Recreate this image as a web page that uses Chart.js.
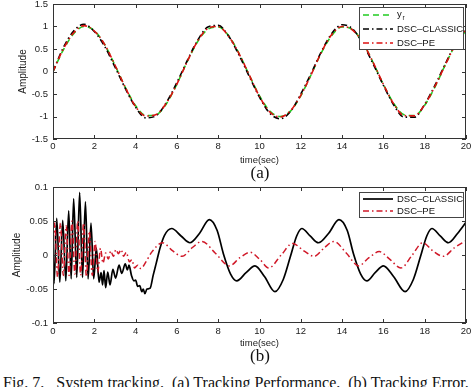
<!DOCTYPE html>
<html>
<head>
<meta charset="utf-8">
<script src="https://cdn.jsdelivr.net/npm/chart.js@4.4.1/dist/chart.umd.min.js"></script>
<style>
body { margin: 0; background: #fff; width: 474px; height: 387px; overflow: hidden; position: relative; }
canvas { position: absolute; left: 0; }
#topChart { top: 0; }
#bottomChart { top: 178px; }
.sub { position: absolute; font-family: "Liberation Serif", serif; font-size: 17px; color: #111; transform: translateX(-50%); }
#caption { position: absolute; left: 3px; top: 374px; font-family: "Liberation Serif", serif; font-size: 16px; color: #111; white-space: pre; }
</style>
</head>
<body>
<canvas id="topChart" width="474" height="168"></canvas>
<canvas id="bottomChart" width="474" height="172"></canvas>
<div class="sub" style="left:260px;top:163px">(a)</div>
<div class="sub" style="left:260px;top:346px">(b)</div>
<div id="caption">Fig. 7.   System tracking.  (a) Tracking Performance.  (b) Tracking Error.</div>
<script>
// (a) tracking performance
const tTop = [0, 0.5, 1, 1.5, 2, 2.5, 3, 3.5, 4, 4.5, 5, 5.5, 6, 6.5, 7, 7.5, 8, 8.5, 9, 9.5, 10,
    10.5, 11, 11.5, 12, 12.5, 13, 13.5, 14, 14.5, 15, 15.5, 16, 16.5, 17, 17.5, 18, 18.5, 19, 19.5, 20];
const refTop = [0, 0.48, 0.84, 1.0, 0.91, 0.6, 0.14, -0.35, -0.76, -0.98, -0.96, -0.71, -0.28, 0.22, 0.66,
    0.94, 0.99, 0.8, 0.41, -0.08, -0.54, -0.88, -1.0, -0.88, -0.54, -0.07, 0.42, 0.8, 0.99, 0.93, 0.65,
    0.2, -0.29, -0.71, -0.96, -0.98, -0.75, -0.34, 0.15, 0.6, 0.91];
const classicTop = [0, 0.53, 0.9, 1.05, 0.89, 0.56, 0.1, -0.375, -0.795, -1.03, -0.98, -0.68, -0.245, 0.24,
    0.69, 0.99, 1.025, 0.79, 0.373, -0.105, -0.57, -0.93, -1.05, -0.89, -0.5, -0.045, 0.445, 0.845, 1.04,
    0.95, 0.62, 0.17, -0.307, -0.745, -1.013, -1.015, -0.73, -0.305, 0.17, 0.63, 0.958];
const peTop = [0, 0.5, 0.86, 1.02, 0.9, 0.6, 0.145, -0.355, -0.78, -0.99, -0.955, -0.695, -0.28, 0.222,
    0.675, 0.955, 1.0, 0.785, 0.405, -0.075, -0.555, -0.9, -1.01, -0.87, -0.53, -0.072, 0.43, 0.82, 1.0,
    0.925, 0.635, 0.205, -0.285, -0.72, -0.98, -0.985, -0.735, -0.327, 0.15, 0.61, 0.93];

// (b) tracking error
const tClassicErr = [0, 0.05, 0.18, 0.33, 0.47, 0.62, 0.76, 0.88, 1.0, 1.15, 1.29, 1.43, 1.57, 1.7, 1.84,
    1.97, 2.1, 2.23, 2.33, 2.4, 2.47, 2.55, 2.65, 2.76, 2.9, 3.03, 3.2, 3.33, 3.5, 3.6, 3.68, 3.8, 3.92,
    4.0, 4.1, 4.2, 4.3, 4.37, 4.45, 4.55, 4.7, 4.85, 5.0, 5.18, 5.4, 5.75, 6.2, 6.63, 7.1, 7.57, 7.95,
    8.25, 8.6, 8.9, 9.35, 9.78, 10.25, 10.75, 11.15, 11.5, 11.8, 12.05, 12.45, 12.85, 13.35, 13.85,
    14.25, 14.55, 14.9, 15.2, 15.6, 16.0, 16.5, 17.05, 17.45, 17.8, 18.1, 18.35, 18.75, 19.15, 19.6, 20];
const classicErr = [0, -0.042, 0.054, -0.04, 0.051, -0.038, 0.065, -0.035, 0.083, -0.033, 0.092, -0.033,
    0.078, -0.035, 0.047, -0.035, 0.01, -0.04, -0.026, -0.044, -0.023, -0.048, -0.025, -0.044, -0.021,
    -0.034, -0.015, -0.027, -0.013, -0.022, -0.015, -0.03, -0.038, -0.037, -0.046, -0.045, -0.054, -0.05,
    -0.057, -0.05, -0.049, -0.03, -0.012, 0.01, 0.029, 0.039, 0.028, 0.018, 0.032, 0.052, 0.036, 0.002,
    -0.028, -0.038, -0.026, -0.016, -0.032, -0.054, -0.036, -0.002, 0.028, 0.039, 0.028, 0.018, 0.032,
    0.052, 0.036, 0.002, -0.028, -0.038, -0.026, -0.016, -0.032, -0.054, -0.036, -0.002, 0.028, 0.039,
    0.028, 0.018, 0.032, 0.048];
const tPeErr = [0, 0.08, 0.22, 0.36, 0.5, 0.64, 0.78, 0.92, 1.06, 1.2, 1.34, 1.48, 1.62, 1.76, 1.9, 2.04,
    2.17, 2.3, 2.42, 2.55, 2.68, 2.8, 2.92, 3.05, 3.17, 3.3, 3.42, 3.55, 3.7, 3.82, 3.95, 4.1, 4.25, 4.5,
    4.8, 5.3, 5.8, 6.25, 6.75, 7.22, 7.85, 8.55, 9.05, 9.55, 10.0, 10.45, 11.05, 11.6, 12.15, 12.65,
    13.15, 13.6, 14.2, 14.8, 15.3, 15.8, 16.3, 16.85, 17.4, 17.9, 18.4, 18.9, 19.45, 20];
const peErr = [0, 0.048, -0.032, 0.047, -0.03, 0.043, -0.03, 0.05, -0.028, 0.05, -0.03, 0.047, -0.032,
    0.035, -0.03, 0.02, -0.025, 0.01, -0.012, 0.003, -0.006, 0.006, -0.002, 0.008, 0.002, 0.008, -0.002,
    0.004, -0.01, -0.007, -0.019, -0.015, -0.02, -0.01, 0.005, 0.018, 0.006, -0.002, 0.011, 0.02, 0.003,
    -0.016, -0.004, 0.004, -0.006, -0.019, 0.0, 0.017, 0.006, -0.002, 0.011, 0.02, 0.003, -0.016, -0.004,
    0.005, -0.006, -0.019, 0.0, 0.018, 0.006, -0.002, 0.011, 0.021];

const xTicks = [0, 2, 4, 6, 8, 10, 12, 14, 16, 18, 20];
const yTicksTop = [-1.5, -1, -0.5, 0, 0.5, 1, 1.5];
const yTicksBottom = [-0.1, -0.05, 0, 0.05, 0.1];

const toPoints = (xs, ys) => xs.map((x, i) => ({ x: x, y: ys[i] }));
const FONT = '"Liberation Sans", Arial, sans-serif';
const DASHDOT = [6, 3, 1.5, 3];

// box round the plot area with MATLAB-like inward ticks
const framePlugin = {
    id: 'frame',
    afterDatasetsDraw(chart) {
        const { ctx, chartArea: a, scales } = chart;
        const x = scales.x, y = scales.y;
        ctx.save();
        ctx.strokeStyle = '#333';
        ctx.lineWidth = 1;
        ctx.strokeRect(a.left + 0.5, a.top + 0.5, a.right - a.left - 1, a.bottom - a.top - 1);
        ctx.beginPath();
        x.ticks.forEach((t) => {
            const px = Math.round(x.getPixelForValue(t.value)) + 0.5;
            ctx.moveTo(px, a.bottom); ctx.lineTo(px, a.bottom - 4);
            ctx.moveTo(px, a.top); ctx.lineTo(px, a.top + 4);
        });
        y.ticks.forEach((t) => {
            const py = Math.round(y.getPixelForValue(t.value)) + 0.5;
            ctx.moveTo(a.left, py); ctx.lineTo(a.left + 4, py);
            ctx.moveTo(a.right, py); ctx.lineTo(a.right - 4, py);
        });
        ctx.stroke();
        ctx.restore();
    }
};

// legend drawn in a bordered box inside the plot
const boxLegendPlugin = {
    id: 'boxLegend',
    afterDraw(chart, args, opts) {
        const ctx = chart.ctx;
        ctx.save();
        ctx.fillStyle = '#fff';
        ctx.fillRect(opts.left, opts.top, opts.width, opts.height);
        ctx.strokeStyle = '#444';
        ctx.lineWidth = 1;
        ctx.strokeRect(opts.left + 0.5, opts.top + 0.5, opts.width, opts.height);
        chart.data.datasets.forEach((ds, i) => {
            const yy = opts.rows[i];
            ctx.strokeStyle = ds.borderColor;
            ctx.lineWidth = ds.borderWidth;
            ctx.setLineDash(ds.borderDash || []);
            ctx.beginPath();
            ctx.moveTo(opts.left + 4, yy);
            ctx.lineTo(opts.left + 34, yy);
            ctx.stroke();
            ctx.setLineDash([]);
            ctx.fillStyle = '#111';
            ctx.textBaseline = 'middle';
            ctx.font = '9.5px ' + FONT;
            const tx = opts.left + 38;
            if (ds.label === 'y_r') {
                ctx.fillText('y', tx, yy - 1);
                ctx.font = '6.5px ' + FONT;
                ctx.fillText('r', tx + 5.5, yy + 3);
            } else {
                ctx.fillText(ds.label, tx, yy);
            }
        });
        ctx.restore();
    }
};

function axes(yMin, yMax, yTicks, yWidth, xHeight, xTitlePad, xTickPad) {
    return {
        x: {
            type: 'linear', min: 0, max: 20,
            afterBuildTicks: (s) => { s.ticks = xTicks.map((v) => ({ value: v })); },
            afterFit: (s) => { s.height = xHeight; s.paddingLeft = 0; s.paddingRight = 0; },
            grid: { display: false, drawTicks: false },
            border: { display: false },
            ticks: { padding: xTickPad, color: '#222', font: { family: FONT, size: 9.5 }, maxRotation: 0, autoSkip: false },
            title: { display: true, text: 'time(sec)', color: '#222', font: { family: FONT, size: 9.5 }, padding: { top: 0, bottom: xTitlePad } }
        },
        y: {
            type: 'linear', min: yMin, max: yMax,
            afterBuildTicks: (s) => { s.ticks = yTicks.map((v) => ({ value: v })); },
            afterFit: (s) => { s.width = yWidth; s.paddingTop = 0; s.paddingBottom = 0; },
            grid: { display: false, drawTicks: false },
            border: { display: false },
            ticks: { padding: 5, color: '#222', font: { family: FONT, size: 9.5 }, callback: (v) => String(v) },
            title: { display: true, text: 'Amplitude', color: '#222', font: { family: FONT, size: 10 }, padding: 0 }
        }
    };
}

new Chart(document.getElementById('topChart'), {
    type: 'line',
    data: {
        datasets: [
            { label: 'y_r', data: toPoints(tTop, refTop), borderColor: '#22cc22', borderWidth: 1.6, borderDash: [6, 4], order: 3 },
            { label: 'DSC–CLASSIC', data: toPoints(tTop, classicTop), borderColor: '#000', borderWidth: 1.6, borderDash: DASHDOT, order: 2 },
            { label: 'DSC–PE', data: toPoints(tTop, peTop), borderColor: '#dd1111', borderWidth: 1.6, borderDash: DASHDOT, order: 1 }
        ]
    },
    options: {
        responsive: false,
        animation: false,
        events: [],
        elements: { point: { radius: 0 }, line: { cubicInterpolationMode: 'monotone' } },
        layout: { padding: { top: 4, right: 8, bottom: 0, left: 17 } },
        scales: axes(-1.5, 1.5, yTicksTop, 36, 29, 2, 2),
        plugins: {
            legend: { display: false },
            tooltip: { enabled: false },
            boxLegend: { left: 359, top: 7, width: 104, height: 42, rows: [15, 29, 43] }
        }
    },
    plugins: [framePlugin, boxLegendPlugin]
});

new Chart(document.getElementById('bottomChart'), {
    type: 'line',
    data: {
        datasets: [
            { label: 'DSC–CLASSIC', data: toPoints(tClassicErr, classicErr), borderColor: '#000', borderWidth: 1.7, order: 2 },
            { label: 'DSC–PE', data: toPoints(tPeErr, peErr), borderColor: '#d01828', borderWidth: 1.5, borderDash: DASHDOT, order: 1 }
        ]
    },
    options: {
        responsive: false,
        animation: false,
        events: [],
        elements: { point: { radius: 0 }, line: { cubicInterpolationMode: 'monotone' } },
        layout: { padding: { top: 9, right: 8, bottom: 0, left: 11 } },
        scales: axes(-0.1, 0.1, yTicksBottom, 42, 27, 1, 3),
        plugins: {
            legend: { display: false },
            tooltip: { enabled: false },
            boxLegend: { left: 359, top: 14, width: 104, height: 25, rows: [21, 33] }
        }
    },
    plugins: [framePlugin, boxLegendPlugin]
});
</script>
</body>
</html>
